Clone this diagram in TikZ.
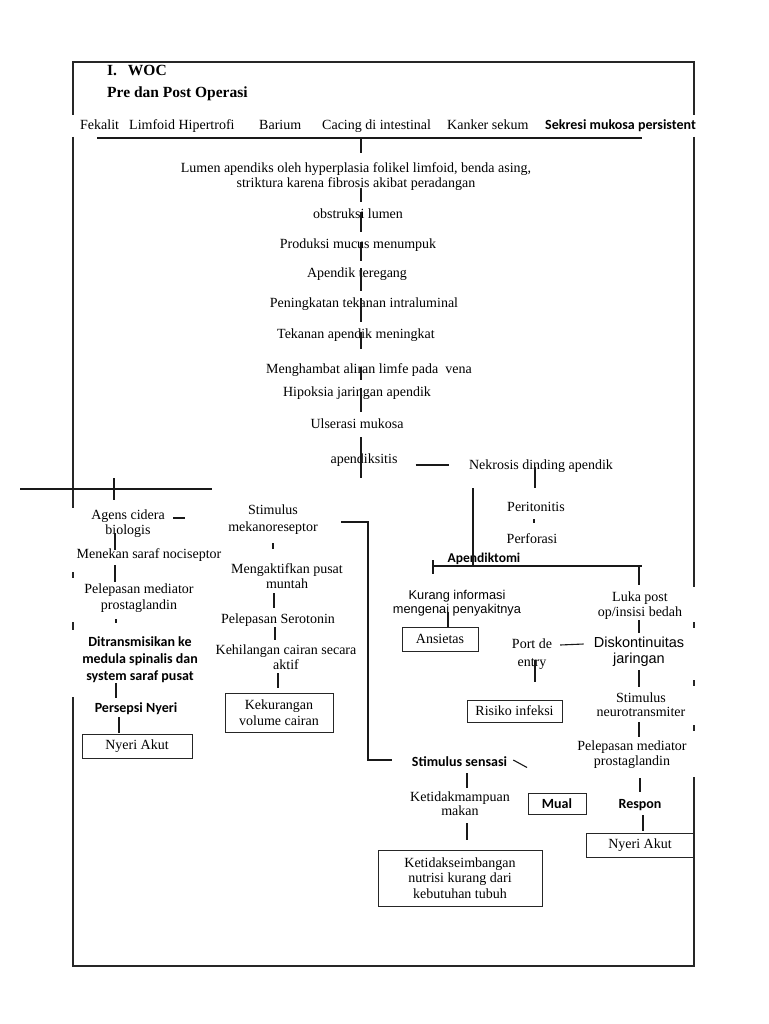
\documentclass[tikz,border=0pt]{standalone}
\usepackage{fontspec}
\setmainfont{Liberation Serif}
\newfontfamily\sansF{Liberation Sans}
\newfontfamily\calF{Carlito}
\usetikzlibrary{calc}
\begin{document}
\begin{tikzpicture}[x=1pt,y=-1pt,
  txt/.style={font=\fontsize{14}{15}\selectfont, align=center, inner sep=0pt},
  stxt/.style={font=\sansF\fontsize{12.8}{14}\selectfont, align=center, inner sep=0pt},
  btxt/.style={font=\calF\bfseries\fontsize{14}{17}\selectfont, align=center, inner sep=0pt},
  one/.style={text height=10pt, text depth=3pt},
  boxn/.style={draw=black!85, line width=1pt, inner sep=2pt, align=center, font=\fontsize{14}{15.5}\selectfont},
  ln/.style={line width=1.1pt, black!90},
  frameln/.style={line width=1.3pt, black!85},
]
\useasboundingbox[fill=white] (0,0) rectangle (768,1024);

% outer frame
\draw[frameln] (73,115) -- (73,62) -- (694,62) -- (694,115);
\draw[frameln] (73,137) -- (73,508);
\draw[frameln] (73,572) -- (73,578);
\draw[frameln] (73,622) -- (73,630);
\draw[frameln] (73,697) -- (73,966) -- (694,966) -- (694,777);
\draw[frameln] (694,137) -- (694,587);
\draw[frameln] (694,622) -- (694,628);
\draw[frameln] (694,680) -- (694,686);
\draw[frameln] (694,725) -- (694,731);

% titles
\node[font=\bfseries\fontsize{15.5}{17}\selectfont, anchor=west, inner sep=0pt, one] (t1) at (107,72) {I.\hspace{0.7em}WOC};
\node[font=\bfseries\fontsize{15.5}{17}\selectfont, anchor=west, inner sep=0pt, one] (t2) at (107,94) {Pre dan Post Operasi};

% causes
\node[txt, one, anchor=west] (c1) at (80,126) {Fekalit};
\node[txt, one, anchor=west] (c2) at (129,126) {Limfoid Hipertrofi};
\node[txt, one, anchor=west] (c3) at (259,126) {Barium};
\node[txt, one, anchor=west] (c4) at (322,126) {Cacing di intestinal};
\node[txt, one, anchor=west] (c5) at (447,126) {Kanker sekum};
\node[btxt, one, anchor=west] (c6) at (545,126) {Sekresi mukosa persistent};
\coordinate (topL) at (97,138);
\coordinate (topR) at (642,138);
\coordinate (spine) at (361,0);
\draw[ln] (topL) -- (topR);

% main chain
\node[txt] (n1) at (356,177) {Lumen apendiks oleh hyperplasia folikel limfoid, benda asing,\\ striktura karena fibrosis akibat peradangan};
\node[txt, one] (n2) at (358,215) {obstruksi lumen};
\node[txt, one] (n3) at (358,245) {Produksi mucus menumpuk};
\node[txt, one] (n4) at (357,274) {Apendik teregang};
\node[txt, one] (n5) at (364,304) {Peningkatan tekanan intraluminal};
\node[txt, one] (n6) at (356,335) {Tekanan apendik meningkat};
\node[txt, one] (n7) at (369,370) {Menghambat aliran limfe pada \ vena};
\node[txt, one] (n8) at (357,393) {Hipoksia jaringan apendik};
\node[txt, one] (n9) at (357,425) {Ulserasi mukosa};
\node[txt, one] (n10) at (364,460) {apendiksitis};

\draw[ln] (topL -| spine) -- ($(n1.center -| spine)+(0,-24)$);
\draw[ln] ($(n1.center -| spine)+(0,11)$) -- ($(n2.center -| spine)+(0,-13)$);
\draw[ln] ($(n2.center -| spine)+(0,-3)$) -- ($(n3.center -| spine)+(0,-13)$);
\draw[ln] ($(n3.center -| spine)+(0,-3)$) -- ($(n4.center -| spine)+(0,-13)$);
\draw[ln] ($(n4.center -| spine)+(0,-6)$) -- ($(n5.center -| spine)+(0,-13)$);
\draw[ln] ($(n5.center -| spine)+(0,-6)$) -- ($(n6.center -| spine)+(0,-13)$);
\draw[ln] ($(n6.center -| spine)+(0,-3)$) -- ($(n7.center -| spine)+(0,-21)$);
\draw[ln] ($(n7.center -| spine)+(0,-3)$) -- ($(n8.center -| spine)+(0,-13)$);
\draw[ln] ($(n8.center -| spine)+(0,-5)$) -- ($(n9.center -| spine)+(0,-13)$);
\draw[ln] ($(n9.center -| spine)+(0,12)$) -- ($(n10.center -| spine)+(0,18)$);

% right branch
\node[txt, one] (nek) at (541,466) {Nekrosis dinding apendik};
\node[txt, one] (peri) at (536,508) {Peritonitis};
\node[txt, one] (perf) at (532,540) {Perforasi};
\node[btxt, one, font=\calF\bfseries\fontsize{13.5}{17}\selectfont] (apd) at (484,559) {Apendiktomi};
\draw[ln] ($(n10.east |- nek.west)+(18,-1)$) -- ($(nek.west)+(-20,-1)$);
\draw[ln] ($(nek.center -| peri.center)+(-1,1)$) -- ($(peri.center)+(-1,-20)$);
\draw[ln] ($(peri.center)+(-2,11)$) -- ($(perf.center)+(2,-17)$);
\coordinate (barL) at (433,566);
\coordinate (barR) at (642,566);
\coordinate (nk) at (473,488);
\draw[ln] (barL) -- (barR);
\draw[ln] ($(barL)+(0,-6)$) -- ($(barL)+(0,8)$);
\draw[ln] (nk) -- (nk |- barL);

\node[stxt] (kur) at (457,603) {Kurang informasi\\mengenai penyakitnya};
\node[txt] (luka) at (640,606) {Luka post\\op/insisi bedah};
\draw[ln] ($(barR)+(-3,0)$) -- ($(luka.center)+(-1,-21)$);
\node[boxn, minimum width=76, minimum height=24] (ans) at (440,639) {Ansietas};
\draw[ln] ($(kur.center)+(-9,9)$) -- ($(ans.north)+(8,0)$);
\node[txt, font=\fontsize{14}{18}\selectfont] (port) at (532,654) {Port de\\entry};
\node[stxt, font=\sansF\fontsize{14.5}{16}\selectfont] (disk) at (639,652) {Diskontinuitas\\jaringan};
\draw[ln] ($(port.east)+(8,-9)$) -- ($(disk.west)+(-10,-8)$);
\draw[ln] ($(luka.center)+(-1,14)$) -- ($(disk.center)+(0,-19)$);
\node[boxn, minimum width=95, minimum height=22] (ris) at (514.5,711) {Risiko infeksi};
\draw[ln] ($(port.center)+(3,6)$) -- ($(port.center)+(3,28)$);
\node[txt, font=\fontsize{14}{14}\selectfont] (stn) at (641,705) {Stimulus\\neurotransmiter};
\draw[ln] ($(disk.center)+(0,18)$) -- ($(stn.center)+(-2,-18)$);
\node[txt] (pel2) at (632,755) {Pelepasan mediator\\prostaglandin};
\draw[ln] ($(stn.center)+(-2,17)$) -- ($(pel2.center)+(7,-18)$);
\node[btxt, one] (resp) at (640,805) {Respon};
\draw[ln] ($(pel2.center)+(8,23)$) -- ($(resp.center)+(0,-13)$);
\node[boxn, minimum width=108, minimum height=24] (nyr) at (640,845) {Nyeri Akut};
\draw[ln] ($(resp.center)+(3,10)$) -- ($(nyr.north)+(3,-2)$);

% stimulus sensasi branch
\node[btxt, one] (ss) at (459.5,763) {Stimulus sensasi};
\node[txt, font=\fontsize{14}{14}\selectfont] (ket) at (460,804) {Ketidakmampuan\\makan};
\node[boxn, minimum width=164, minimum height=56] (kts) at (460,878) {Ketidakseimbangan\\nutrisi kurang dari\\kebutuhan tubuh};
\node[boxn, font=\calF\bfseries\fontsize{14}{15}\selectfont, minimum width=58, minimum height=21] (mual) at (557,803.5) {Mual};
\draw[ln] ($(ss.center)+(7.5,10)$) -- ($(ket.center)+(7,-16)$);
\draw[ln] ($(ket.center)+(7,19)$) -- ($(kts.north)+(7,-10)$);
\draw[ln] ($(ss.east)+(6,-3)$) -- ($(mual.north)+(-30,-25)$);

% left branch
\coordinate (lhL) at (20,489);
\coordinate (lhR) at (212,489);
\draw[ln] (lhL) -- (lhR);
\node[txt] (agen) at (128,524) {Agens cidera\\biologis};
\draw[ln] ($(agen.center)+(-14,-46)$) -- ($(agen.center)+(-14,-24)$);
\draw[ln] ($(agen.center)+(45,-6)$) -- ($(agen.center)+(57,-6)$);
\node[txt, one] (men) at (149,555) {Menekan saraf nociseptor};
\draw[ln] ($(agen.center)+(-13,9)$) -- ($(men.center)+(-34,-5)$);
\node[txt, font=\fontsize{14}{16}\selectfont] (pel1) at (139,598) {Pelepasan mediator\\prostaglandin};
\draw[ln] ($(men.center)+(-34,10)$) -- ($(pel1.center)+(-24,-16)$);
\node[btxt] (dit) at (140,660) {Ditransmisikan ke\\medula spinalis dan\\system saraf pusat};
\draw[ln] ($(pel1.center)+(-23,21)$) -- ($(dit.center)+(-24,-37)$);
\node[btxt, one] (pers) at (136,709) {Persepsi Nyeri};
\draw[ln] ($(dit.center)+(-24,23)$) -- ($(pers.center)+(-20,-11)$);
\node[boxn, minimum width=110, minimum height=24] (nya) at (137,746) {Nyeri Akut};
\draw[ln] ($(pers.center)+(-17,8)$) -- ($(nya.north)+(-18,-1)$);

% middle-left branch
\node[txt, font=\fontsize{14}{17}\selectfont] (mek) at (273,520) {Stimulus\\mekanoreseptor};
\node[txt] (mga) at (287,576) {Mengaktifkan pusat\\muntah};
\draw[ln] ($(mek.center)+(0,23)$) -- ($(mga.center)+(-14,-27)$);
\node[txt, one] (ser) at (278,620) {Pelepasan Serotonin};
\draw[ln] ($(mga.center)+(-13,17)$) -- ($(ser.center)+(-4,-12)$);
\node[txt] (keh) at (286,657) {Kehilangan cairan secara\\aktif};
\draw[ln] ($(ser.center)+(-3,7)$) -- ($(keh.center)+(-11,-17)$);
\node[boxn, minimum width=108, minimum height=39] (kek) at (279,712.5) {Kekurangan\\volume cairan};
\draw[ln] ($(keh.center)+(-8,16)$) -- ($(kek.north)+(-1,-5)$);
\draw[ln] ($(mek.center)+(68,2)$) -- ++(27,0) |- ($(ss.west)+(-20,-3)$);
\end{tikzpicture}
\end{document}
